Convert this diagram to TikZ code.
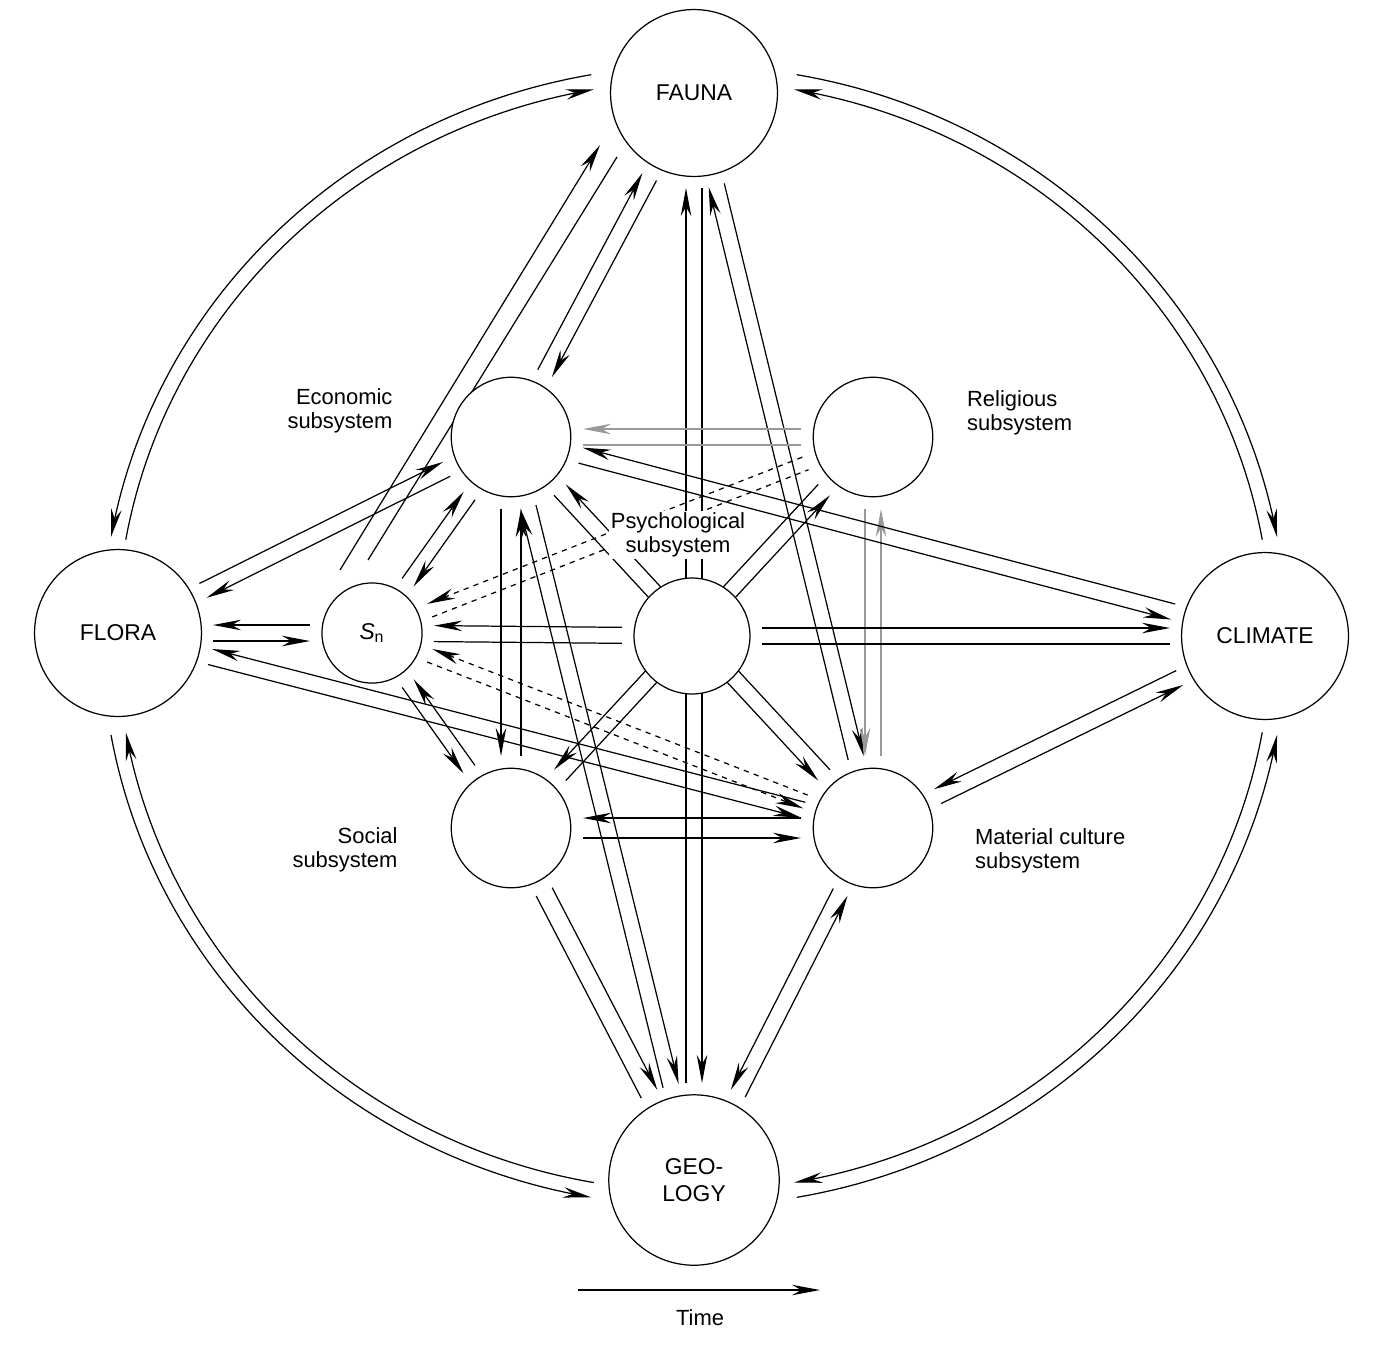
\documentclass[tikz,border=0pt]{standalone}
\usepackage{fontspec}
\setmainfont{Liberation Sans}
\usetikzlibrary{calc,arrows.meta}
\newdimen\pxu \pxu=0.569pt
\tikzset{
 ln/.style={draw,line width=0.7pt,>={Stealth[length=16pt,width=6pt]}},
 gr/.style={draw=black!40,line width=1.3pt},
 big/.style={circle,draw,line width=0.7pt,minimum size=95pt,inner sep=0pt,font=\fontsize{13}{15}\selectfont,align=center},
 sml/.style={circle,draw,line width=0.7pt,minimum size=68pt,inner sep=0pt},
 lab/.style={font=\fontsize{12.5}{14}\selectfont,inner sep=1pt}
}
\newcommand\lnk[7]{%
 \draw[ln,shorten <=#3\pxu,shorten >=#4\pxu,#6] ($(#1)!#5\pxu!90:(#2)$) -- ($(#2)!#5\pxu!-90:(#1)$);
 \draw[ln,shorten <=#3\pxu,shorten >=#4\pxu,#7] ($(#1)!#5\pxu!-90:(#2)$) -- ($(#2)!#5\pxu!90:(#1)$);}
\begin{document}
\begin{tikzpicture}[x=0.02cm,y=-0.02cm]
\useasboundingbox (0,0) rectangle (1388,1363);
\coordinate (fa) at (694,93); \coordinate (fl) at (118,633);
\coordinate (cl) at (1265,636); \coordinate (ge) at (694,1180);
\coordinate (ec) at (511,437); \coordinate (re) at (873,437);
\coordinate (sn) at (372,633); \coordinate (ps) at (692,636);
\coordinate (so) at (511,828); \coordinate (ma) at (873,828);
% outer arcs
\draw[ln,->] plot[domain=-100:-170,samples=60] ({694+592*cos(\x)},{636+570*sin(\x)});
\draw[ln,->] plot[domain=-170:-100,samples=60] ({694+577*cos(\x)},{636+555*sin(\x)});
\draw[ln,->] plot[domain=-80:-10,samples=60] ({694+592*cos(\x)},{636+570*sin(\x)});
\draw[ln,->] plot[domain=-10:-80,samples=60] ({694+577*cos(\x)},{636+555*sin(\x)});
\draw[ln,->] plot[domain=80:10,samples=60] ({694+592*cos(\x)},{636+570*sin(\x)});
\draw[ln,->] plot[domain=10:80,samples=60] ({694+577*cos(\x)},{636+555*sin(\x)});
\draw[ln,->] plot[domain=170:100,samples=60] ({694+592*cos(\x)},{636+570*sin(\x)});
\draw[ln,->] plot[domain=100:170,samples=60] ({694+577*cos(\x)},{636+555*sin(\x)});
% extra pair to fauna
\coordinate (a1) at (340,570); \coordinate (a2) at (600,145);
\coordinate (b1) at (368,560); \coordinate (b2) at (617,157);
\draw[ln,->] (a1) -- (a2); \draw[ln] (b1) -- (b2);
% links
\lnk{fa}{ec}{95}{72}{8}{->}{<-}
\lnk{fa}{ma}{95}{72}{8}{->}{<-}
\lnk{fa}{ge}{95}{97}{8}{->}{<-}
\lnk{ec}{re}{72}{72}{8}{gr,<-}{gr}
\lnk{re}{ma}{72}{72}{8}{gr,<-}{gr,->}
\lnk{ec}{so}{72}{72}{10}{<-}{->}
\lnk{so}{ma}{72}{72}{10}{<-}{->}
\lnk{sn}{ps}{62}{70}{8}{<-}{}
\lnk{ps}{cl}{70}{95}{8}{->}{}
\lnk{fl}{sn}{95}{62}{8}{<-}{->}
\lnk{fl}{ec}{95}{72}{8}{->}{<-}
\lnk{fl}{ma}{95}{72}{8}{<-}{->}
\lnk{ec}{cl}{72}{95}{8}{<-}{->}
\lnk{cl}{ma}{95}{72}{8}{<-}{->}
\lnk{sn}{ec}{62}{72}{7}{->}{<-}
\lnk{sn}{so}{62}{72}{7}{<-}{->}
\lnk{sn}{ma}{62}{72}{7}{dashed,<-}{dashed,->}
\lnk{sn}{re}{62}{72}{7}{dashed,<-}{dashed}
\lnk{ec}{ma}{72}{72}{8}{<-}{->}
\lnk{re}{so}{72}{72}{8}{<-}{->}
\lnk{ec}{ge}{72}{97}{8}{->}{<-}
\lnk{so}{ge}{72}{97}{9}{->}{}
\lnk{ma}{ge}{72}{97}{8}{<-}{->}
% nodes
\node[big,fill=white] (FA) at (fa) {FAUNA};
\node[big,fill=white] (FL) at (fl) {FLORA};
\node[big,fill=white] (CL) at (cl) {CLIMATE};
\node[big,fill=white,minimum size=97pt] (GE) at (ge) {GEO-\\LOGY};
\node[sml,fill=white] (EC) at (ec) {};
\node[sml,fill=white] (RE) at (re) {};
\node[sml,fill=white,minimum size=57pt,font=\fontsize{13}{15}\selectfont] (SN) at (sn) {\textit{S}\textsubscript{n}};
\node[sml,fill=white,minimum size=66pt] (PS) at (ps) {};
\node[sml,fill=white] (SO) at (so) {};
\node[sml,fill=white] (MA) at (ma) {};
% labels
\node[lab,align=right] (lec) at (340,411) {Economic\\subsystem};
\node[lab,align=left,anchor=west] (lre) at (965,413) {Religious\\subsystem};
\node[lab,align=center,fill=white] (lps) at (678,535) {Psychological\\subsystem};
\node[lab,align=right] (lso) at (345,850) {Social\\subsystem};
\node[lab,align=left,anchor=west] (lma) at (973,851) {Material culture\\subsystem};
\coordinate (t1) at (578,1290); \coordinate (t2) at (820,1290);
\draw[ln,->] (t1) -- (t2);
\node[lab] (time) at (700,1318) {Time};
\end{tikzpicture}
\end{document}
